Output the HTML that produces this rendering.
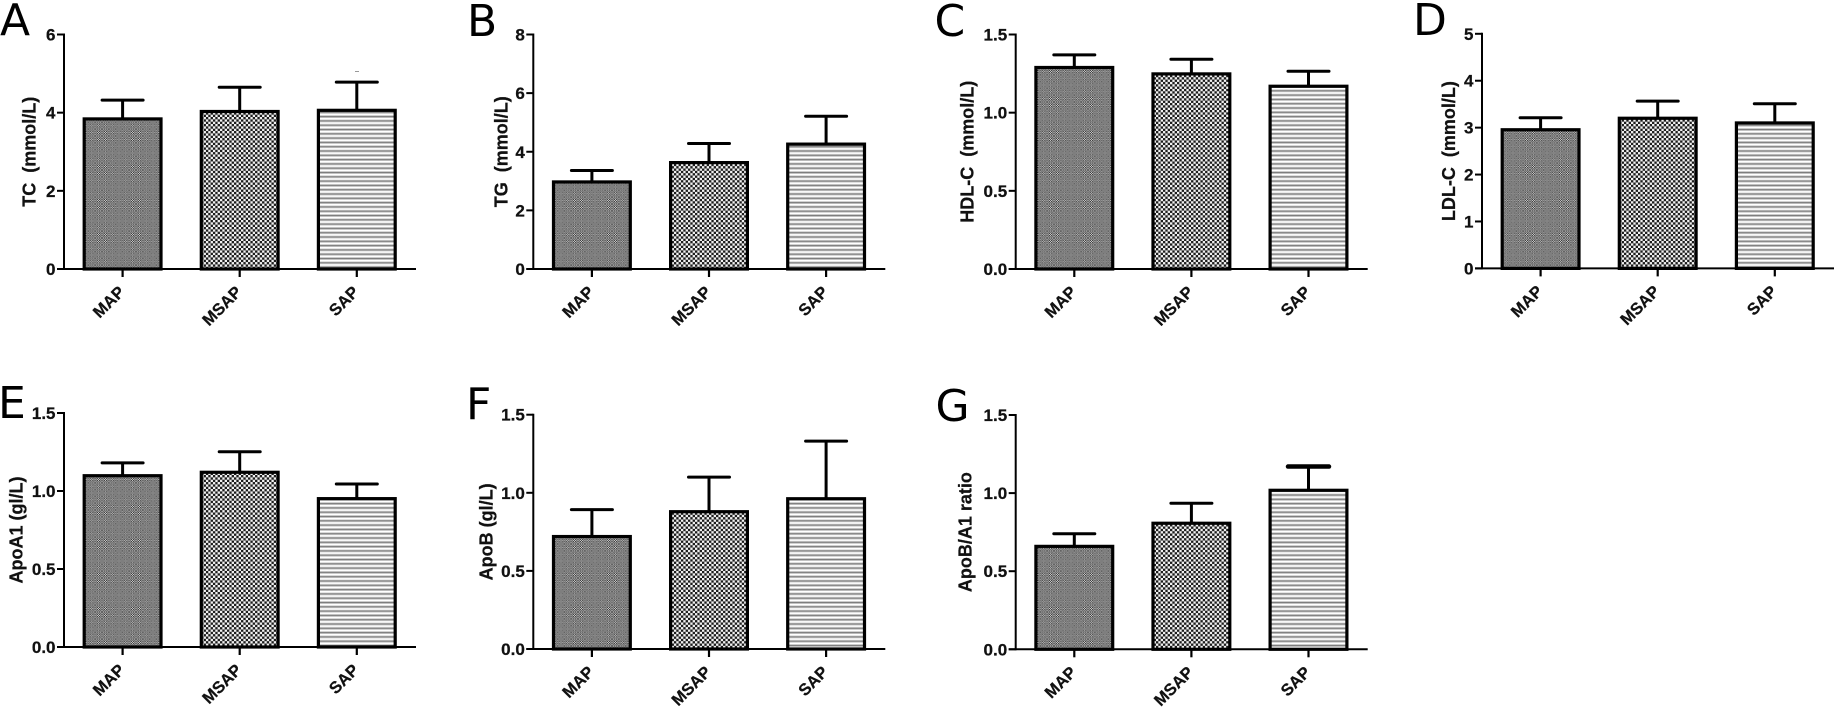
<!DOCTYPE html>
<html lang="en">
<head>
<meta charset="utf-8">
<title>Lipid profile bar charts</title>
<style>
html,body{margin:0;padding:0;background:#fff;width:1835px;height:710px;overflow:hidden}
svg{display:block}
text{font-family:"Liberation Sans",Arial,sans-serif;font-weight:700;fill:#111;stroke:#111;stroke-width:.25px}
.letter{font-family:"DejaVu Sans","Liberation Sans",sans-serif;font-weight:400;font-size:44px;fill:#000;stroke:none}
</style>
</head>
<body>
<svg id="figure" xmlns="http://www.w3.org/2000/svg" width="1835" height="710" viewBox="0 0 1835 710">
<defs>
<pattern id="pat-map" patternUnits="userSpaceOnUse" width="6.8" height="6.8"></pattern>
<pattern id="pat-msap" patternUnits="userSpaceOnUse" width="4.68" height="4.68">
<rect width="4.68" height="4.68" fill="#f2f2f2"/>
<rect x="0" y="0" width="2.34" height="2.34" fill="#1c1c1c"/>
<rect x="2.34" y="2.34" width="2.34" height="2.34" fill="#1c1c1c"/>
</pattern>
<pattern id="pat-sap" patternUnits="userSpaceOnUse" width="4.3" height="4.3">
<rect width="4.3" height="4.3" fill="#c0c0c0"/>
<rect y="0" width="4.3" height="1" fill="#7c7c7c"/>
<rect y="1.9" width="4.3" height="1.6" fill="#fff"/>
</pattern>
</defs>
<g id="panels"></g>
<rect x="355" y="71" width="4" height="1" fill="#999"/>
</svg>
<script>
const categories = ['MAP', 'MSAP', 'SAP'];

const tcMeans = [3.84, 4.03, 4.06];
const tcErrors = [0.48, 0.62, 0.72];
const tcTicks = ['0', '2', '4', '6'];

const tgMeans = [2.97, 3.63, 4.26];
const tgErrors = [0.39, 0.65, 0.95];
const tgTicks = ['0', '2', '4', '6', '8'];

const hdlMeans = [1.289, 1.248, 1.169];
const hdlErrors = [0.081, 0.094, 0.096];
const hdlTicks = ['0.0', '0.5', '1.0', '1.5'];

const ldlMeans = [2.955, 3.20, 3.10];
const ldlErrors = [0.255, 0.365, 0.41];
const ldlTicks = ['0', '1', '2', '3', '4', '5'];

const apoa1Means = [1.098, 1.12, 0.951];
const apoa1Errors = [0.082, 0.132, 0.094];
const apoa1Ticks = ['0.0', '0.5', '1.0', '1.5'];

const apobMeans = [0.72, 0.879, 0.962];
const apobErrors = [0.172, 0.221, 0.369];
const apobTicks = ['0.0', '0.5', '1.0', '1.5'];

const ratioMeans = [0.659, 0.807, 1.018];
const ratioErrors = [0.081, 0.128, 0.152];
const ratioTicks = ['0.0', '0.5', '1.0', '1.5'];

const NS = 'http://www.w3.org/2000/svg';
const patternIds = ['pat-map', 'pat-msap', 'pat-sap'];

const panelList = [
  {key:'a', letter:'A', lx:0,    ly:35,  title:'TC\u00a0\u00a0(mmol/L)',    means:tcMeans,    errors:tcErrors,    ticks:tcTicks,    ax:64,     top:34.5, base:269,   tx:28.3},
  {key:'b', letter:'B', lx:467,  ly:36,  title:'TG\u00a0\u00a0(mmol/L)',    means:tgMeans,    errors:tgErrors,    ticks:tgTicks,    ax:533.3,  top:34.5, base:269,   tx:25.6},
  {key:'c', letter:'C', lx:934.5,ly:36,  title:'HDL-C\u00a0\u00a0(mmol/L)', means:hdlMeans,   errors:hdlErrors,   ticks:hdlTicks,   ax:1015.7, top:34.5, base:269,   tx:42.4},
  {key:'d', letter:'D', lx:1413, ly:35,  title:'LDL-C\u00a0\u00a0(mmol/L)', means:ldlMeans,   errors:ldlErrors,   ticks:ldlTicks,   ax:1482,   top:33.8, base:268.4, tx:27},
  {key:'e', letter:'E', lx:-2,   ly:418, title:'ApoA1\u00a0(gl/L)',         means:apoa1Means, errors:apoa1Errors, ticks:apoa1Ticks, ax:64,     top:413,  base:647,   tx:41.7},
  {key:'f', letter:'F', lx:466,  ly:419, title:'ApoB\u00a0(gl/L)',          means:apobMeans,  errors:apobErrors,  ticks:apobTicks,  ax:533.3,  top:414.7,base:649,   tx:41},
  {key:'g', letter:'G', lx:935.5,ly:421, title:'ApoB/A1 ratio',             means:ratioMeans, errors:ratioErrors, ticks:ratioTicks, ax:1015.7, top:415,  base:649.3, tx:44}
];

function make(tag, attrs, parent, text) {
  const el = document.createElementNS(NS, tag);
  for (const k in attrs) el.setAttribute(k, attrs[k]);
  if (text !== undefined) el.textContent = text;
  parent.appendChild(el);
  return el;
}

// fine dithered fill for the MAP bars
(function buildMapPattern() {
  const p = document.getElementById('pat-map');
  make('rect', {width:6.8, height:6.8, fill:'#808080'}, p);
  for (let j = 0; j < 7; j++) {
    for (let i = 0; i < 7; i++) {
      const strong = i >= 2 && i <= 4 && j >= 2 && j <= 4;
      const odd = (i + j) % 2 === 1;
      const col = strong ? (odd ? '#e6e6e6' : '#222') : (odd ? '#9a9a9a' : '#636363');
      make('rect', {x:i * 6.8 / 7, y:j * 6.8 / 7, width:6.8 / 7, height:6.8 / 7, fill:col}, p);
    }
  }
})();

const root = document.getElementById('panels');

panelList.forEach(function (panel) {
  const g = make('g', {}, root);
  
  

  const maxV = parseFloat(panel.ticks[panel.ticks.length - 1]);
  const yScale = function (v) { return panel.base - (v / maxV) * (panel.base - panel.top); };
  const xScale = function (i) { return panel.ax + 58.6 + i * 117.1; };
  const halfBar = 38.4;
  const halfCap = 20.5;

  const letter = make('text', {x:panel.lx, y:panel.ly, class:'letter'}, g, panel.letter);
  
  

  const yTitle = make('text', {
    transform:'translate(' + (panel.ax - panel.tx) + ' ' + ((panel.top + panel.base) / 2) + ') rotate(-90)',
    'text-anchor':'middle', 'font-size':'18'
  }, g, panel.title);
  
  

  panel.means.forEach(function (mean, i) {
    const cx = xScale(i);
    const yTop = yScale(mean);
    const yCap = yScale(mean + panel.errors[i]);

    const stem = make('line', {x1:cx, x2:cx, y1:yTop, y2:yCap, stroke:'#000', 'stroke-width':3}, g);
    
    

    const capWidth = panel.key === 'g' && i === 2 ? 4.5 : 3;
    const cap = make('line', {x1:cx - halfCap, x2:cx + halfCap, y1:yCap, y2:yCap, stroke:'#000', 'stroke-width':capWidth, 'stroke-linecap':'round'}, g);
    
    

    const bar = make('rect', {
      x:cx - halfBar, y:yTop, width:halfBar * 2, height:panel.base - yTop,
      fill:'url(#' + patternIds[i] + ')', stroke:'#000', 'stroke-width':3.2
    }, g);
    
    

    const xTick = make('line', {x1:cx, x2:cx, y1:panel.base, y2:panel.base + 8, stroke:'#000', 'stroke-width':2.2}, g);
    
    

    const xLabel = make('text', {
      transform:'translate(' + (cx + 3) + ' ' + (panel.base + 24) + ') rotate(-45)',
      'text-anchor':'end', 'font-size':'16.5'
    }, g, categories[i]);
    
    
  });

  const yAxis = make('line', {x1:panel.ax, x2:panel.ax, y1:panel.top - 1, y2:panel.base + 1, stroke:'#000', 'stroke-width':2}, g);
  
  

  const xAxis = make('line', {x1:panel.ax - 7, x2:panel.ax + 352, y1:panel.base, y2:panel.base, stroke:'#000', 'stroke-width':2}, g);
  
  

  panel.ticks.forEach(function (label) {
    const y = yScale(parseFloat(label));

    const tick = make('line', {x1:panel.ax - 7, x2:panel.ax, y1:y, y2:y, stroke:'#000', 'stroke-width':2}, g);
    
    

    const tickText = make('text', {x:panel.ax - 8.5, y:y + 6, 'text-anchor':'end', 'font-size':'17'}, g, label);
    
    
  });
});
</script>
</body>
</html>
